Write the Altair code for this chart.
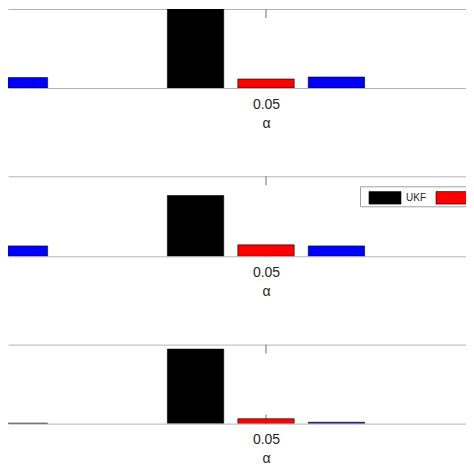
import altair as alt
import pandas as pd

# groups (alpha values, x tick labels) and series
alpha_labels = ["0.01", "0.05"]
methods = ["UKF", "EKF", "CKF"]
colors = ["#000000", "#ff0000", "#0000ff"]
tick_labels = ["0.05"]

# bars visible in the crop (values relative to each panel's y range 0..1)
p1_alpha = ["0.01", "0.05", "0.05", "0.05"]
p1_method = ["CKF", "UKF", "EKF", "CKF"]
p1_value = [0.132, 1.0, 0.114, 0.139]

p2_alpha = ["0.01", "0.05", "0.05", "0.05"]
p2_method = ["CKF", "UKF", "EKF", "CKF"]
p2_value = [0.130, 0.760, 0.143, 0.130]

p3_alpha = ["0.01", "0.05", "0.05", "0.05"]
p3_method = ["CKF", "UKF", "EKF", "CKF"]
p3_value = [0.006, 0.943, 0.062, 0.017]

FONT = "Liberation Sans"
LINE_GREY = "#b4b4b4"
TICK_GREY = "#707070"
TEXT = "#262626"
W = 466
TICK_LEN = 9

# MATLAB grouped-bar geometry (group index units)
GROUP_W = 2 / 3
BAR_W = 0.8 * GROUP_W / 3
OFFSET = {m: (i - 1) * GROUP_W / 3 for i, m in enumerate(methods)}
XDOM = [2 - 258 / 317, 2 + (W - 258) / 317]   # visible window of the axes

label_js = "[" + ",".join("'%s'" % a for a in alpha_labels) + "]"
tick_pos = [alpha_labels.index(t) + 1 for t in tick_labels]


def frame(alpha, method, value):
    df = pd.DataFrame({"alpha": alpha, "method": method, "value": value})
    gi = df["alpha"].map(lambda a: alpha_labels.index(a) + 1)
    ctr = gi + df["method"].map(OFFSET)
    df["x0"] = ctr - BAR_W / 2
    df["x1"] = ctr + BAR_W / 2
    return df


def panel(df, H, legend):
    xs = alt.Scale(domain=XDOM, nice=False, zero=False)
    ys = alt.Scale(domain=[0, 1], nice=False, zero=True)
    # inward MATLAB-style ticks at top and bottom edges
    tk = TICK_LEN / H
    ticks = pd.DataFrame({
        "x0": tick_pos * 2,
        "value": [1.0] * len(tick_pos) + [0.0] * len(tick_pos),
        "v2": [1.0 - tk] * len(tick_pos) + [tk] * len(tick_pos),
    })
    tick_layer = alt.Chart(ticks).mark_rule(color=TICK_GREY, strokeWidth=1).encode(
        x=alt.X("x0:Q", scale=xs,
                axis=alt.Axis(orient="top", domain=True, domainColor=LINE_GREY, domainWidth=1,
                              ticks=False, labels=False, grid=False, title=None)),
        y=alt.Y("value:Q", scale=ys, axis=None),
        y2="v2:Q",
    )
    bars = alt.Chart(df).mark_bar(clip=True, stroke="black", strokeWidth=0.6, opacity=1).encode(
        x=alt.X("x0:Q", scale=xs,
                axis=alt.Axis(orient="bottom", values=tick_pos,
                              labelExpr=label_js + "[datum.value - 1]",
                              ticks=False, domain=True, domainColor=LINE_GREY, domainWidth=1,
                              grid=False,
                              labelFont=FONT, labelFontSize=14, labelColor=TEXT,
                              labelAngle=0, labelBaseline="alphabetic", labelPadding=20,
                              title="α", titleFont=FONT, titleFontSize=14,
                              titleFontWeight="normal", titleColor=TEXT,
                              titleX=258, titleY=39.3, titleAlign="center",
                              titleBaseline="alphabetic")),
        x2="x1:Q",
        y=alt.Y("value:Q", scale=ys, axis=None),
        y2=alt.datum(0),
        color=alt.Color("method:N", scale=alt.Scale(domain=methods, range=colors),
                        legend=legend),
    )
    return alt.layer(tick_layer, bars).resolve_axis(x="independent").properties(
        width=W, height=H)


leg = alt.Legend(orient="none", legendX=352, legendY=10, direction="horizontal",
                 title=None, values=["UKF", "EKF"],
                 labelExpr="datum.index == 0 ? datum.label : ''",
                 symbolType="M-1.6,-0.625H1.6V0.625H-1.6Z",
                 symbolSize=400, symbolStrokeColor="black", symbolStrokeWidth=0.6,
                 symbolOpacity=1, symbolOffset=13.5, labelOffset=10.5, columnPadding=2,
                 padding=1, strokeColor="#a0a0a0", fillColor="white",
                 labelFont=FONT, labelFontSize=10, labelColor=TEXT)

p1 = panel(frame(p1_alpha, p1_method, p1_value), 79, None)
p2 = panel(frame(p2_alpha, p2_method, p2_value), 80, leg)
p3 = panel(frame(p3_alpha, p3_method, p3_value), 79, None)

chart = alt.vconcat(p1, p2, p3, spacing=88.3, bounds="flush").resolve_scale(
    x="independent", y="independent", color="independent").resolve_legend(
    color="independent").properties(
    padding={"left": 0, "top": 0, "bottom": 0, "right": -9}).configure_view(stroke=None)

chart.save("out.html", embed_options={"renderer": "svg", "actions": False})
